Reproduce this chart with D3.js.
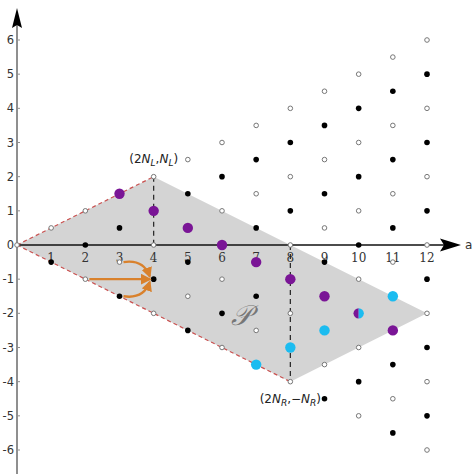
<!DOCTYPE html>
<html><head><meta charset="utf-8">
<script src="https://cdn.jsdelivr.net/npm/d3@7"></script>
<style>body{margin:0;background:#fff}svg{display:block}</style>
</head><body>
<svg id="c" width="474" height="474"></svg>
<script>
// ---- data ----
const xTicks = [1,2,3,4,5,6,7,8,9,10,11,12];
const yTicks = [6,5,4,3,2,1,0,-1,-2,-3,-4,-5,-6];
const filledPoints = [
  [1,-0.5],[2,0],[3,0.5],[3,-1.5],[4,-1],[5,1.5],[5,-0.5],[5,-2.5],
  [6,2],[6,-2],[7,2.5],[7,0.5],[7,-1.5],[8,3],[8,1],
  [9,3.5],[9,1.5],[9,-0.5],[9,-4.5],[10,4],[10,2],[10,0],[10,-4],
  [11,4.5],[11,2.5],[11,0.5],[11,-3.5],[11,-5.5],
  [12,5],[12,3],[12,1],[12,-1],[12,-3],[12,-5]
];
const openPoints = [
  [0,0],[1,0.5],[2,1],[2,-1],[3,-0.5],[4,2],[4,0],[4,-2],[5,2.5],[5,-1.5],
  [6,3],[6,1],[6,-1],[6,-3],[7,3.5],[7,1.5],[7,-2.5],[8,4],[8,2],[8,0],[8,-2],[8,-4],
  [9,4.5],[9,2.5],[9,0.5],[9,-3.5],[10,5],[10,3],[10,1],[10,-1],[10,-3],[10,-5],
  [11,5.5],[11,3.5],[11,1.5],[11,-0.5],[11,-4.5],
  [12,6],[12,4],[12,2],[12,0],[12,-2],[12,-4],[12,-6]
];
const purplePoints = [[3,1.5],[4,1],[5,0.5],[6,0],[7,-0.5],[8,-1],[9,-1.5],[11,-2.5]];
const cyanPoints = [[7,-3.5],[8,-3],[9,-2.5],[11,-1.5]];
const splitPoints = [[10,-2]];
const polygonP = [[0,0],[4,2],[12,-2],[8,-4]];
const redEdges = [[[0,0],[4,2]],[[0,0],[8,-4]]];
const dashedVerticals = [[[4,2],[4,0]],[[8,0],[8,-4]]];
const arrowStarts = [[2,-1],[3,-0.5],[3,-1.5]];
const arrowEnd = [4,-1];

// ---- drawing ----
const svg = d3.select("#c");
const x = d3.scaleLinear().domain([0,12]).range([17,427]);
const y = d3.scaleLinear().domain([-6,6]).range([450,40]);
const purple = "#7a1596", cyan = "#1cbcf0", orange = "#d9812c";

// polygon
svg.append("path")
  .attr("d", d3.line().x(d=>x(d[0])).y(d=>y(d[1]))(polygonP)+"Z")
  .attr("fill","#d4d4d4");

// red dashed edges
redEdges.forEach(e=>{
  svg.append("line").attr("x1",x(e[0][0])).attr("y1",y(e[0][1]))
    .attr("x2",x(e[1][0])).attr("y2",y(e[1][1]))
    .attr("stroke","#c9504f").attr("stroke-width",1.2).attr("stroke-dasharray","4,3");
});

// y axis line
svg.append("line").attr("x1",x(0)).attr("x2",x(0)).attr("y1",474).attr("y2",24)
  .attr("stroke","#8f8f8f").attr("stroke-width",2);
svg.append("path").attr("d",`M${x(0)},8 L${x(0)+5},28 L${x(0)},25 L${x(0)-5},28 Z`).attr("fill","#000");
const ya = svg.append("g");
yTicks.forEach(t=>{
  ya.append("line").attr("x1",x(0)).attr("x2",x(0)+3).attr("y1",y(t)).attr("y2",y(t)).attr("stroke","#8f8f8f");
  ya.append("text").attr("x",x(0)-3).attr("y",y(t)).attr("dy","0.36em")
    .attr("text-anchor","end").attr("font-family","DejaVu Sans").attr("font-size",11.5)
    .attr("fill","#333").text(t<0?"-"+(-t):t);
});
// x axis
svg.append("line").attr("x1",x(0)).attr("x2",446).attr("y1",y(0)).attr("y2",y(0))
  .attr("stroke","#111").attr("stroke-width",1.6);
svg.append("path").attr("d",`M461,${y(0)} L440,${y(0)-6.5} L444,${y(0)} L440,${y(0)+6.5} Z`).attr("fill","#000");
svg.append("text").attr("x",465).attr("y",y(0)).attr("dy","0.3em").attr("font-family","DejaVu Sans")
  .attr("font-size",12).attr("fill","#333").text("a");
xTicks.forEach(t=>{
  svg.append("text").attr("x",x(t)).attr("y",y(0)+17).attr("text-anchor","middle")
    .attr("font-family","DejaVu Serif").attr("font-size",12).attr("fill","#333").text(t);
});

// dashed verticals
dashedVerticals.forEach(e=>{
  svg.append("line").attr("x1",x(e[0][0])).attr("y1",y(e[0][1]))
    .attr("x2",x(e[1][0])).attr("y2",y(e[1][1]))
    .attr("stroke","#222").attr("stroke-width",1.2).attr("stroke-dasharray","5,4");
});

// lattice points
svg.append("g").selectAll("circle").data(openPoints).join("circle")
  .attr("cx",d=>x(d[0])).attr("cy",d=>y(d[1])).attr("r",2.3)
  .attr("fill","#fff").attr("stroke","#777").attr("stroke-width",1);
svg.append("g").selectAll("circle").data(filledPoints).join("circle")
  .attr("cx",d=>x(d[0])).attr("cy",d=>y(d[1])).attr("r",2.8).attr("fill","#000");
svg.append("g").selectAll("circle").data(purplePoints).join("circle")
  .attr("cx",d=>x(d[0])).attr("cy",d=>y(d[1])).attr("r",5.2).attr("fill",purple);
svg.append("g").selectAll("circle").data(cyanPoints).join("circle")
  .attr("cx",d=>x(d[0])).attr("cy",d=>y(d[1])).attr("r",5.2).attr("fill",cyan);
splitPoints.forEach(d=>{
  const cx=x(d[0]), cy=y(d[1]), r=5.2;
  svg.append("path").attr("d",`M${cx},${cy-r} A${r},${r} 0 0 0 ${cx},${cy+r} Z`).attr("fill",purple);
  svg.append("path").attr("d",`M${cx},${cy-r} A${r},${r} 0 0 1 ${cx},${cy+r} Z`).attr("fill",cyan);
});

// orange arrows
const defs = svg.append("defs");
defs.append("marker").attr("id","ah").attr("viewBox","0 0 10 10").attr("refX",8).attr("refY",5)
  .attr("markerWidth",4.5).attr("markerHeight",4.5).attr("orient","auto")
  .append("path").attr("d","M0,0 L10,5 L0,10 Z").attr("fill",orange);
const ex = x(arrowEnd[0])-4, ey = y(arrowEnd[1]);
arrowStarts.forEach(s=>{
  const sx = x(s[0])+4, sy = y(s[1]);
  let d;
  if (s[1]===arrowEnd[1]) d = `M${sx},${sy} L${ex},${ey}`;
  else {
    const up = s[1]>arrowEnd[1];
    const cx = sx+20, cy = sy + (up ? -3 : 3);
    d = `M${sx},${sy} Q${cx},${cy} ${ex},${ey + (up? -3: 3)}`;
  }
  svg.append("path").attr("d",d).attr("fill","none").attr("stroke",orange)
    .attr("stroke-width",2.4).attr("marker-end","url(#ah)");
});

// labels
const l1 = svg.append("text").attr("x",x(4)).attr("y",y(2)-14).attr("text-anchor","middle")
  .attr("font-family","DejaVu Sans").attr("font-size",12).attr("fill","#222");
l1.append("tspan").text("(2");
l1.append("tspan").attr("font-style","italic").text("N");
l1.append("tspan").attr("font-style","italic").attr("font-size",9).attr("dy",3).text("L");
l1.append("tspan").attr("dy",-3).text(",");
l1.append("tspan").attr("font-style","italic").text("N");
l1.append("tspan").attr("font-style","italic").attr("font-size",9).attr("dy",3).text("L");
l1.append("tspan").attr("dy",-3).text(")");

const l2 = svg.append("text").attr("x",x(8)).attr("y",y(-4)+21).attr("text-anchor","middle")
  .attr("font-family","DejaVu Sans").attr("font-size",12).attr("fill","#222");
l2.append("tspan").text("(2");
l2.append("tspan").attr("font-style","italic").text("N");
l2.append("tspan").attr("font-style","italic").attr("font-size",9).attr("dy",3).text("R");
l2.append("tspan").attr("dy",-3).text(",\u2212");
l2.append("tspan").attr("font-style","italic").text("N");
l2.append("tspan").attr("font-style","italic").attr("font-size",9).attr("dy",3).text("R");
l2.append("tspan").attr("dy",-3).text(")");

svg.append("text").attr("x",x(6.55)).attr("y",y(-2.35)).attr("text-anchor","middle")
  .attr("font-family","DejaVu Serif").attr("font-style","italic").attr("font-size",28)
  .attr("fill","#777").text("\u{1D4AB}");
</script>
</body></html>
